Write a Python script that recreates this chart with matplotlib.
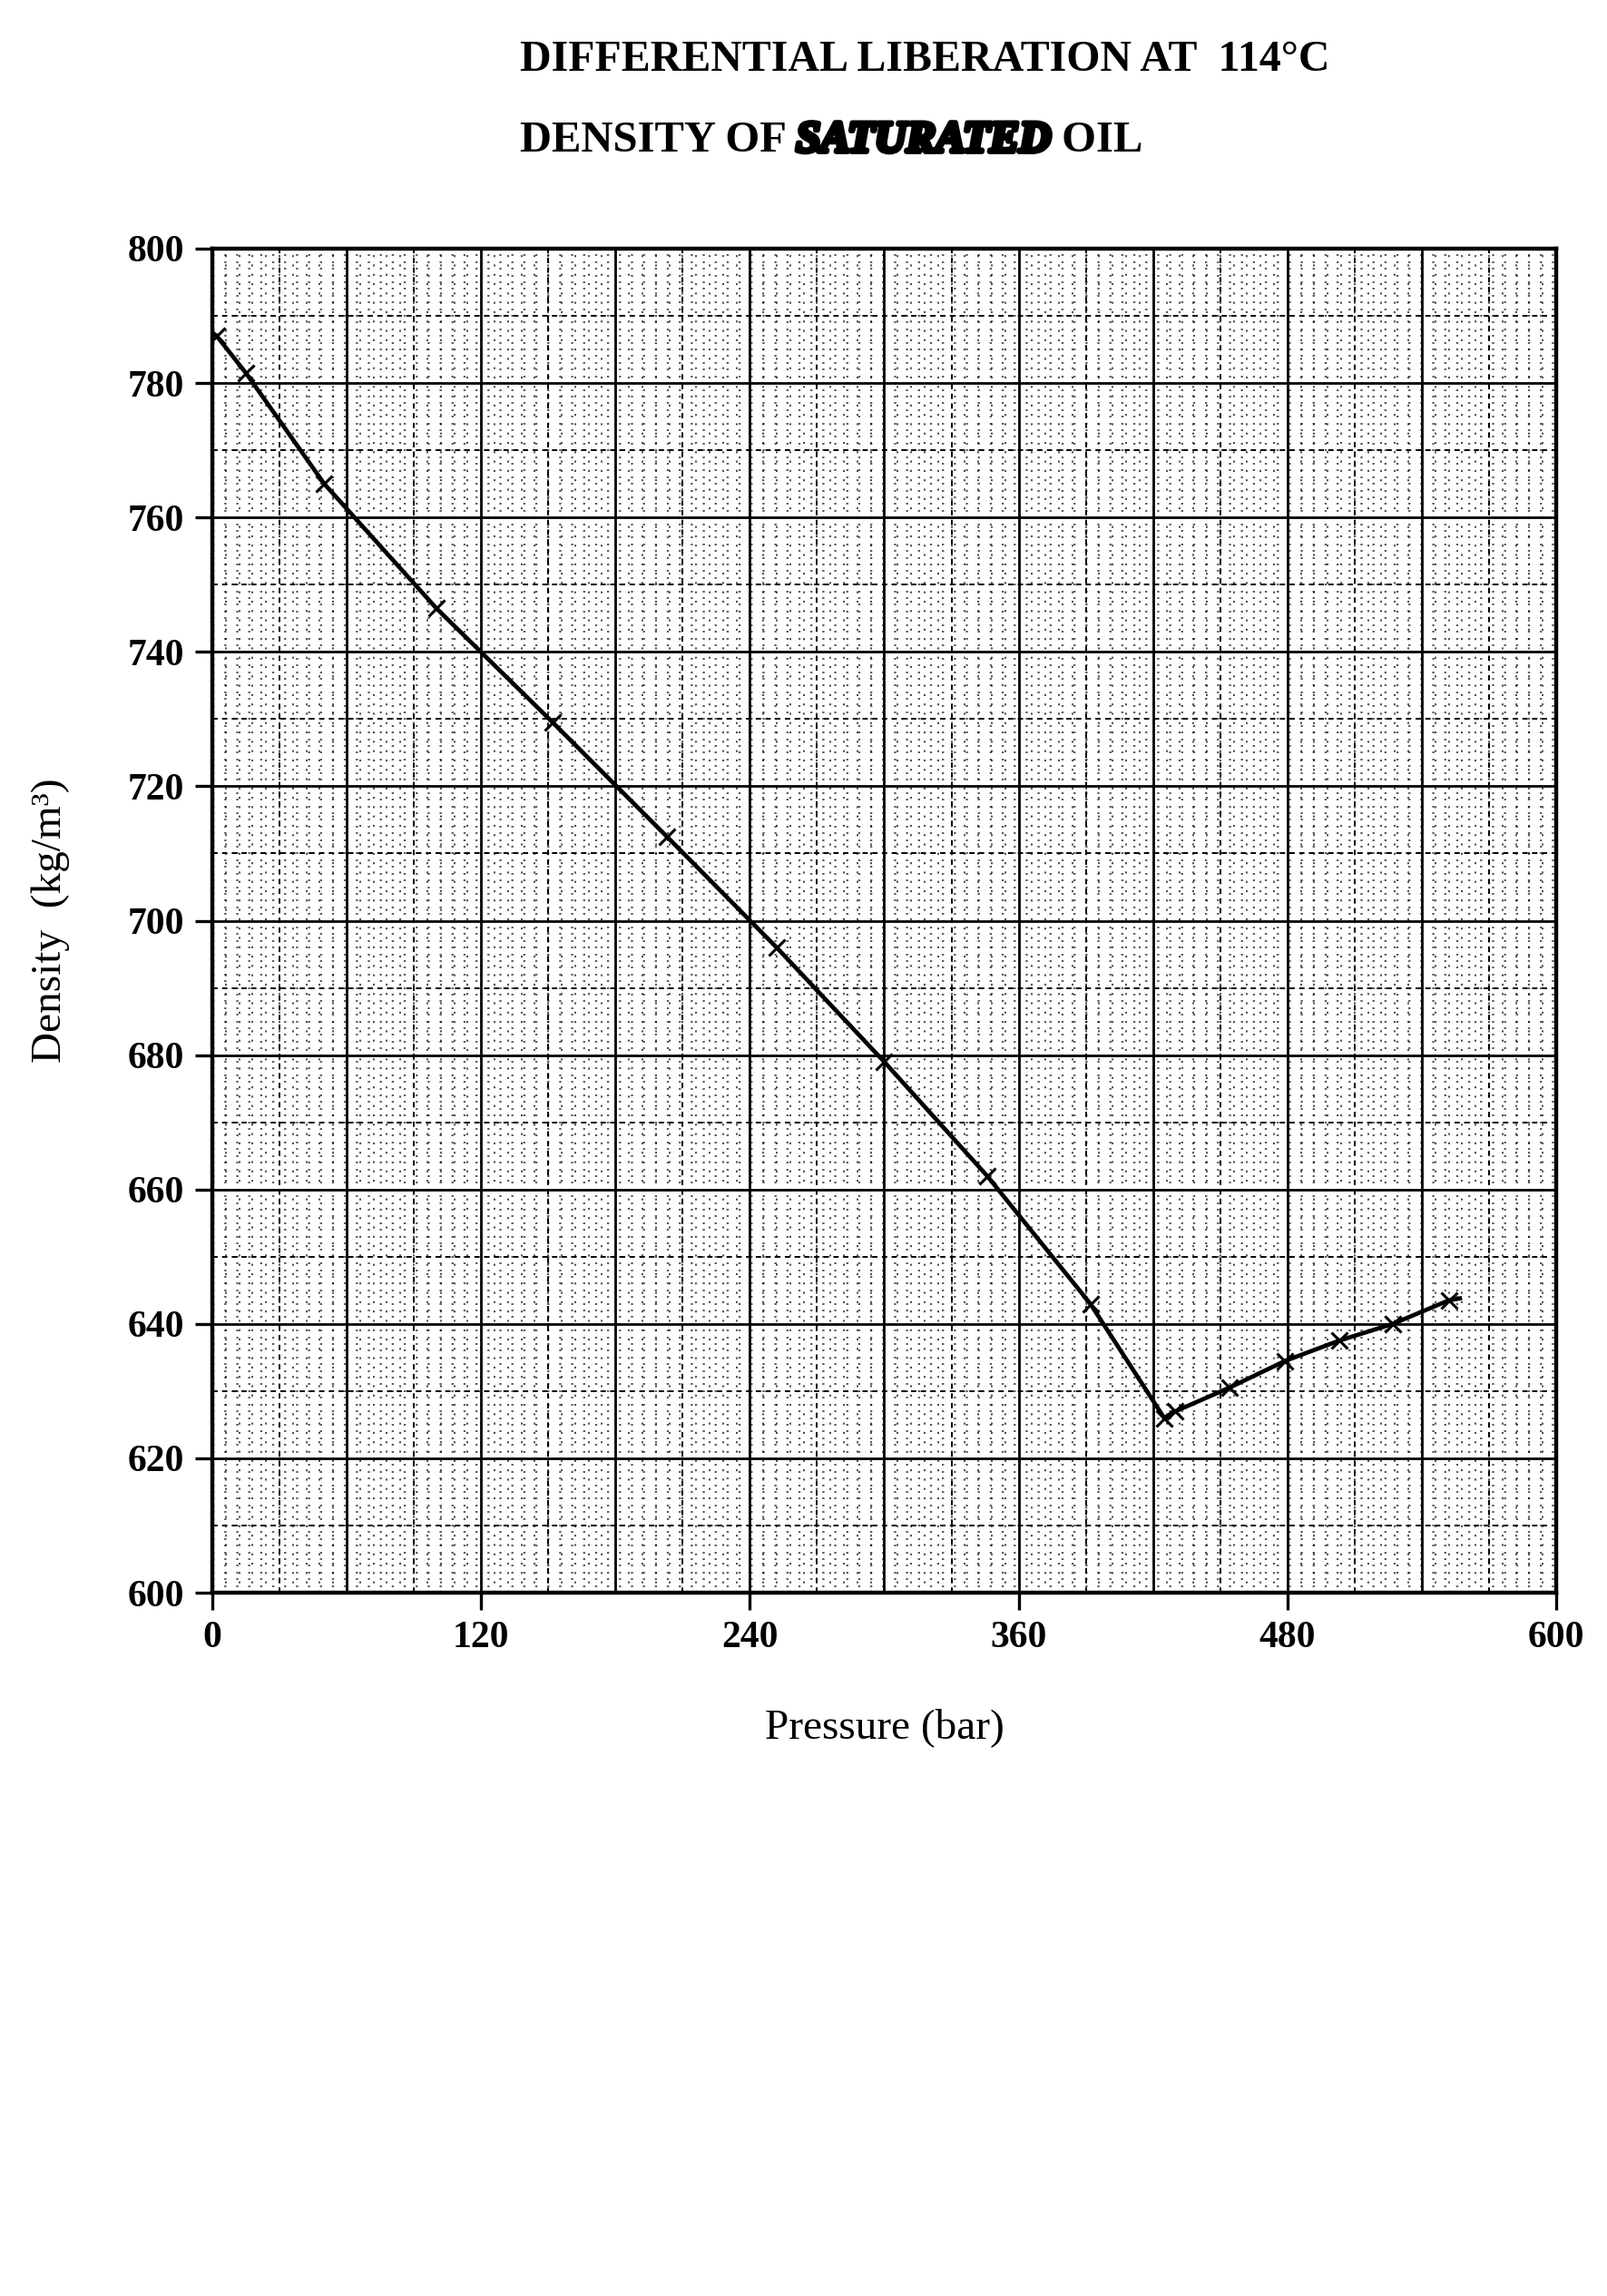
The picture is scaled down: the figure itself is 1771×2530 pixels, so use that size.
import numpy as np
import matplotlib
matplotlib.use("Agg")
import matplotlib.pyplot as plt
import matplotlib.patheffects as pe

# Differential liberation at 114 C - density of oil vs pressure
pressure = [2, 15, 50, 100, 152, 203, 252, 300, 346, 392, 425, 430, 454, 479, 503, 527, 552, 557]
density = [787, 781.5, 765, 746.5, 729.5, 712.5, 696, 679, 662, 643, 626, 627, 630.5, 634.5, 637.5, 640, 643.5, 643.8]
marked = [True] * 17 + [False]

x_ticks = [0, 120, 240, 360, 480, 600]
y_ticks = [600, 620, 640, 660, 680, 700, 720, 740, 760, 780, 800]

plt.rcParams["font.family"] = ["Liberation Serif", "DejaVu Serif"]

fig = plt.figure(figsize=(17.71, 25.30), dpi=100)
ax = fig.add_axes([0.1321, 0.3063, 0.8363, 0.5854])

ax.set_xlim(0, 600)
ax.set_ylim(600, 800)

# graph paper: stipple, dashed half lines, solid major lines
for xv in np.arange(6, 600, 6):
    ax.axvline(xv, color="black", lw=1.3, ls=(0, (1.2, 4.5)), alpha=0.75, zorder=0)
for yv in np.arange(601, 800, 1):
    ax.axhline(yv, color="black", lw=1.3, ls=(0, (1.3, 6)), alpha=0.7, zorder=0)
for xv in np.arange(30, 600, 60):
    ax.axvline(xv, color="black", lw=1.4, ls=(0, (3, 2.5)), zorder=1)
for yv in np.arange(610, 800, 20):
    ax.axhline(yv, color="black", lw=1.4, ls=(0, (3, 2.5)), zorder=1)
for xv in np.arange(60, 600, 60):
    ax.axvline(xv, color="black", lw=2.0, zorder=2)
for yv in np.arange(620, 800, 20):
    ax.axhline(yv, color="black", lw=2.0, zorder=2)

ax.plot(pressure, density, color="black", lw=3.4, zorder=5)
px = [p for p, m in zip(pressure, marked) if m]
py = [d for d, m in zip(density, marked) if m]
ax.plot(px, py, ls="none", marker="x", ms=13, mew=2.2, color="black", zorder=6)

for s in ax.spines.values():
    s.set_linewidth(3.2)
ax.set_xticks(x_ticks)
ax.set_yticks(y_ticks)
ax.tick_params(direction="out", length=14, width=2.4, labelsize=30, pad=8)
for lbl in ax.get_xticklabels() + ax.get_yticklabels():
    lbl.set_fontweight("bold")

ax.set_xlabel("Pressure (bar)", fontsize=34, labelpad=42)
ax.set_ylabel("Density  (kg/m\u00b3)", fontsize=34, labelpad=46)

fig.text(0.3235, 0.974, "DIFFERENTIAL LIBERATION AT  114\u00b0C",
         fontsize=34.5, fontweight="bold", va="center", ha="left")
t1 = fig.text(0.3235, 0.9387, "DENSITY OF ", fontsize=35, fontweight="bold",
              va="center", ha="left")
t2 = ax.annotate("SATURATED", xy=(1, 0), xycoords=t1, va="bottom", ha="left",
                 fontsize=35, fontweight="bold", style="italic", annotation_clip=False,
                 path_effects=[pe.withStroke(linewidth=4, foreground="black")])
ax.annotate(" OIL", xy=(1, 0), xycoords=t2, va="bottom", ha="left",
            fontsize=35, fontweight="bold", annotation_clip=False)

fig.savefig("out.png", dpi=100, facecolor="white")
